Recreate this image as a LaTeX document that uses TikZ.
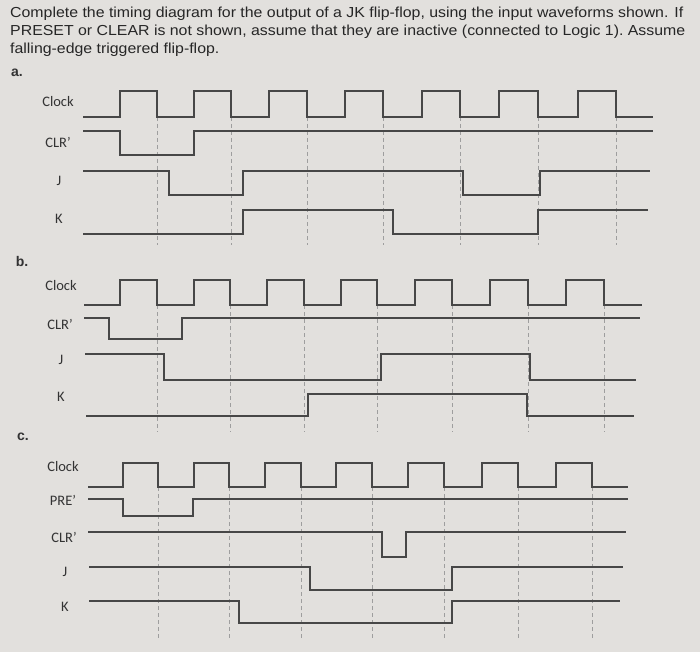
\documentclass[tikz,border=0pt]{standalone}
\usepackage{fontspec}
\setmainfont{Liberation Sans}
\newfontfamily\lblfont{Carlito}
\newfontfamily\titlefont[FakeStretch=1.095]{Liberation Sans}
\begin{document}
\begin{tikzpicture}[x=1pt,y=-1pt,
  wave/.style={draw=black!72, line width=1.3pt, line join=miter},
  guide/.style={draw=black!38, line width=0.5pt, dash pattern=on 4pt off 3pt},
  sig/.style={font=\lblfont\fontsize{14.5}{16}\selectfont, text=black!80, inner sep=0pt},
  part/.style={font=\bfseries\fontsize{14}{16}\selectfont, text=black!80, inner sep=0pt},
  title/.style={font=\titlefont\fontsize{14.5}{17}\selectfont, text=black!85, anchor=west, inner sep=0pt}]
\fill[fill={rgb,255:red,226;green,224;blue,221}] (0,0) rectangle (700,652);
\useasboundingbox (0,0) rectangle (700,652);
% title
\node[title] (t1) at (10,14) {Complete the timing diagram for the output of a JK flip-flop, using the input waveforms shown. If};
\node[title] (t2) at (10,32) {PRESET or CLEAR is not shown, assume that they are inactive (connected to Logic 1).\ Assume};
\node[title] (t3) at (10,50) {falling-edge triggered flip-flop.};
% ---------- a ----------
\node[part] (pa) at (17,73) {a.};
\node[sig] (aclk) at (58,102) {Clock};
\node[sig] (aclr) at (58,142) {CLR’};
\node[sig] (aj) at (59,181) {J};
\node[sig] (ak) at (59,219) {K};
\foreach \x in {157,231,307,383,460,538,616} \draw[guide] (\x,117) -- (\x,245);
\draw[wave] (83,117) -| (120,91) -| (157,117) -| (194,91) -| (231,117) -| (269,91) -| (307,117) -| (345,91) -| (383,117) -| (422,91) -| (460,117) -| (499,91) -| (538,117) -| (578,91) -| (616,117) -- (653,117);
\draw[wave] (83,131) -| (120,155) -| (194,131) -- (653,131);
\draw[wave] (83,171) -| (169,195) -| (243,171) -| (463,195) -| (540,171) -- (650,171);
\draw[wave] (83,234) -| (243,210) -| (393,234) -| (538,210) -- (648,210);
% ---------- b ----------
\node[part] (pb) at (22,261) {b.};
\node[sig] (bclk) at (61,286) {Clock};
\node[sig] (bclr) at (60,324) {CLR’};
\node[sig] (bj) at (61,360) {J};
\node[sig] (bk) at (61,397) {K};
\foreach \x in {157,230,304,377,452,528,604} \draw[guide] (\x,305) -- (\x,432);
\draw[wave] (84,305) -| (120,280) -| (157,305) -| (194,280) -| (230,305) -| (267,280) -| (304,305) -| (341,280) -| (377,305) -| (415,280) -| (452,305) -| (490,280) -| (528,305) -| (566,280) -| (604,305) -- (642,305);
\draw[wave] (84,318) -| (109,339) -| (182,318) -- (640,318);
\draw[wave] (85,354) -| (164,380) -| (381,354) -| (530,380) -- (636,380);
\draw[wave] (86,416) -| (308,394) -| (527,416) -- (634,416);
% ---------- c ----------
\node[part] (pc) at (23,437) {c.};
\node[sig] (cclk) at (63,467) {Clock};
\node[sig] (cpre) at (63,500) {PRE’};
\node[sig] (cclr) at (64,537) {CLR’};
\node[sig] (cj) at (65,572) {J};
\node[sig] (ck) at (65,607) {K};
\foreach \x in {158,229,301,372,444,518,592} \draw[guide] (\x,487) -- (\x,640);
\draw[wave] (88,487) -| (123,463) -| (158,487) -| (194,463) -| (229,487) -| (265,463) -| (301,487) -| (336,463) -| (372,487) -| (408,463) -| (444,487) -| (482,463) -| (518,487) -| (556,463) -| (592,487) -- (628,487);
\draw[wave] (88,499) -| (123,516) -| (193,499) -- (628,499);
\draw[wave] (88,532) -| (382,557) -| (406,532) -- (626,532);
\draw[wave] (89,567) -| (310,590) -| (452,567) -- (623,567);
\draw[wave] (89,601) -| (239,623) -| (452,601) -- (620,601);
\end{tikzpicture}
\end{document}
